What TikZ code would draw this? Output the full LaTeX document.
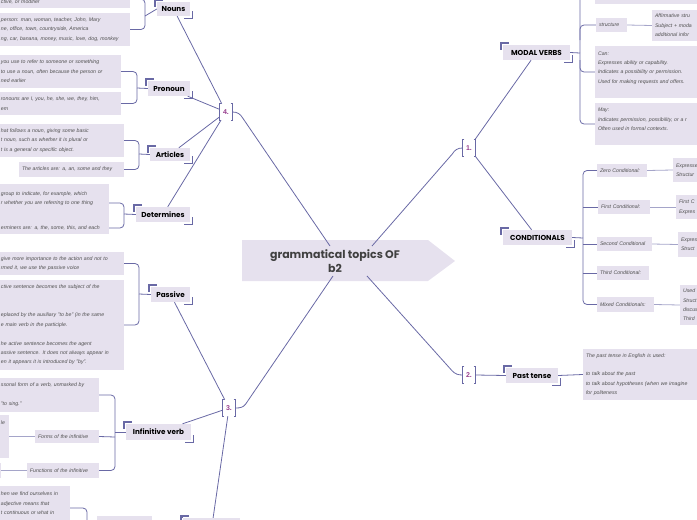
\documentclass[tikz,border=0pt]{standalone}
\usepackage{fontspec}
\setmainfont{Liberation Sans}
\newfontfamily\topf{Poppins}
\usetikzlibrary{calc}
\definecolor{boxc}{RGB}{230,225,238}
\definecolor{linec}{RGB}{105,105,165}
\definecolor{numc}{RGB}{150,60,140}
\definecolor{txtc}{RGB}{80,80,80}
\newcommand\subbox[6]{%
  \pgfmathsetmacro\bw{#4-#2-6}\pgfmathsetmacro\bh{#5-#3}%
  \node[sub,text width=\bw pt,minimum height=\bh pt] (#1) at ({(#2+#4)/2},{(#3+#5)/2}) {#6};}
\newcommand\topic[6]{%
  \pgfmathsetmacro\bw{#4-#2}\pgfmathsetmacro\bh{#5-#3}%
  \node[topic,minimum width=\bw pt,minimum height=\bh pt] (#1) at ({(#2+#4)/2},{(#3+#5)/2}) {#6};
  \draw[cornermark] ($(#1.north west)+(-2,5)$) -- ($(#1.north west)+(-2,-2)$) -- ($(#1.north west)+(6,-2)$);
  \draw[cornermark] ($(#1.south east)+(2,-5)$) -- ($(#1.south east)+(2,2)$) -- ($(#1.south east)+(-6,2)$);}
\newcommand\marker[4]{%
  \node[num] (#1) at (#2,#3) {#4};
  \draw[conn] ($(#1.north west)+(2,0)$) -- (#1.north west) -- (#1.south west) -- ++(2,0);
  \draw[conn] ($(#1.north east)+(-2,0)$) -- (#1.north east) -- (#1.south east) -- ++(-2,0);}
\newcommand\bl{\mbox{}}
\begin{document}
\begin{tikzpicture}[x=1pt,y=-1pt,
  sub/.style={fill=boxc,font=\fontsize{5.2}{9.4}\selectfont\itshape,text=txtc,align=left,inner xsep=3pt,inner ysep=1pt},
  topic/.style={fill=boxc,font=\topf\bfseries\fontsize{7.2}{8}\selectfont,inner sep=0pt},
  cornermark/.style={draw=linec,line width=1.4pt},
  conn/.style={draw=linec,line width=0.8pt},
  thin/.style={draw=linec!60,line width=0.8pt},
  num/.style={font=\bfseries\fontsize{7}{8}\selectfont,text=numc,minimum width=13pt,minimum height=16pt,inner sep=0pt}]
\useasboundingbox (0,0) rectangle (697,520);
\clip (0,0) rectangle (697,520);

% central topic
\fill[boxc] (242,240) -- (428,240) -- (455,261) -- (428,281) -- (242,281) -- cycle;
\node[font=\topf\bfseries\fontsize{11}{14}\selectfont,text=black!75,align=center] (c) at (335,261) {grammatical topics OF\\b2};

% markers
\marker{m4}{226}{112}{4.}
\marker{m3}{229}{408}{3.}
\marker{m1}{469}{148}{1.}
\marker{m2}{469}{375}{2.}
\draw[conn] (180,525) -- (180,517) -- (183,517);

% center connections
\draw[conn] ([xshift=-5pt]c.north) -- ($(m4.east)+(10,6)$) to[out=120,in=0] (m4.east);
\draw[conn] ([xshift=-2pt]c.south) -- ($(m3.east)+(10,-4)$) to[out=235,in=0] (m3.east);
\draw[conn] ([xshift=37pt]c.north) -- ($(m1.west)+(-10,6)$) to[out=60,in=180] (m1.west);
\draw[conn] ([xshift=32pt]c.south) -- ($(m2.west)+(-10,-4)$) to[out=-45,in=180] (m2.west);

% ===== Left: group 4 =====
\topic{nouns}{157}{2}{190}{16}{Nouns}
\topic{pron}{148}{81}{190}{96}{Pronoun}
\topic{art}{150}{148}{190}{161}{Articles}
\topic{det}{136}{207}{190}{222}{Determines}
\draw[conn] (m4) -- (nouns);
\draw[conn] (m4) -- (pron);
\draw[conn] (m4) -- (art);
\draw[conn] (m4) -- (det);

\subbox{n1}{-2}{-10}{130}{8}{\bl\\ctive, or modifier}
\subbox{n2}{-2}{13}{130}{46}{person: man, woman, teacher, John, Mary\\ne, office, town, countryside, America\\ng, car, banana, money, music, love, dog, monkey}
\draw[conn,rounded corners=4pt] (n1.east) -| (145,20) |- (n2.east);
\draw[conn] (nouns.west) -- (145,16);

\subbox{p1}{-2}{55}{121}{88}{you use to refer to someone or something\\to use a noun, often because the person or\\ned earlier}
\subbox{p2}{-2}{92}{121}{115}{ronouns are I, you, he, she, we, they, him,\\em}
\draw[conn,rounded corners=4pt] (p1.east) -| (137,88) |- (p2.east);
\draw[conn] (pron.west) -- (137,88);

\subbox{a1}{-2}{124}{124}{157}{hat follows a noun, giving some basic\\t noun, such as whether it is plural or\\t is a general or specific object.}
\subbox{a2}{19}{162}{124}{177}{The articles are: a, an, some and they}
\draw[conn,rounded corners=4pt] (a1.east) -| (139,154) |- (a2.east);
\draw[conn] (art.west) -- (139,154);

\subbox{d1}{-2}{184}{109}{222}{group to indicate, for example, which\\r whether you are referring to one thing\\\bl}
\subbox{d2}{-2}{222}{109}{234}{erminers are: a, the, some, this, and each}
\draw[conn,rounded corners=4pt] (d1.east) -| (124,214) |- (d2.east);
\draw[conn] (det.west) -- (124,214);

% ===== Left: group 3 =====
\topic{pas}{151}{287}{190}{302}{Passive}
\topic{inf}{126}{424}{191}{440}{Infinitive verb}
\topic{bot}{183}{518}{240}{540}{}
\draw[conn] (m3) -- (pas);
\draw[conn] (m3) -- (inf);
\draw[conn] (m3) -- (bot);

\subbox{ps1}{-2}{252}{124}{275}{give more importance to the action and not to\\rmed it, we use the passive voice}
\subbox{ps2}{-2}{280}{124}{370}{ctive sentence becomes the subject of the\\\bl\\\bl\\eplaced by the auxiliary "to be" (in the same\\e main verb in the participle.\\\bl\\he active sentence becomes the agent\\assive sentence. It does not always appear in\\en it appears it is introduced by "by".}
\draw[conn,rounded corners=4pt] (ps1.east) -| (139,294) |- (ps2.east);
\draw[conn] (pas.west) -- (139,294);

\subbox{i1}{-2}{378}{99}{412}{ssonal form of a verb, unmarked by\\\bl\\ "to sing."}
\subbox{i2}{35}{430}{99}{443}{Forms of the infinitive}
\subbox{i3}{27}{463}{99}{478}{Functions of the infinitive}
\subbox{i2a}{-2}{415}{9}{458}{le\\\bl\\\bl\\\bl}
\subbox{i3a}{-6}{463}{1}{478}{\bl}
\draw[conn,rounded corners=4pt] (i1.east) -| (115,432) |- (i3.east);
\draw[conn] (i2.east) -- (115,437);
\draw[conn] (inf.west) -- (115,432);
\draw[thin] (i2.west) -- (i2a.east);
\draw[thin] (i3.west) -- (i3a.east);

\subbox{b1}{-2}{486}{70}{530}{hen we find ourselves in\\ adjective means that\\t continuous or what in\\\bl}
\subbox{b2}{97}{516}{152}{530}{\bl}
\draw[conn,rounded corners=4pt] (b1.east) -| (87,530);

% ===== Right: group 1 =====
\topic{modal}{503}{45}{570}{60}{MODAL VERBS}
\topic{cond}{503}{230}{572}{245}{CONDITIONALS}
\draw[conn] (m1) -- (modal);
\draw[conn] (m1) -- (cond);

\subbox{mt}{595}{-20}{700}{4}{\bl}
\subbox{ms}{596}{18}{627}{32}{structure}
\subbox{msr}{652}{10}{703}{41}{Affirmative stru\\Subject + moda\\additional infor}
\subbox{mc}{595}{46}{703}{98}{Can:\\Expresses ability or capability.\\Indicates a possibility or permission.\\Used for making requests and offers.\\\bl}
\subbox{mm}{595}{103}{703}{145}{May:\\Indicates permission, possibility, or a r\\Often used in formal contexts.\\\bl}
\draw[conn,rounded corners=4pt] (mt.west) -| (580,60) |- (mm.west);
\draw[conn,rounded corners=4pt] (ms.west) -| (580,40);
\draw[conn,rounded corners=4pt] (mc.west) -| (580,60);
\draw[conn] (modal.east) -- (580,53);
\draw[thin] (ms.east) -- (msr.west);

\subbox{c0}{597}{164}{647}{177}{Zero Conditional:}
\subbox{c0r}{673}{158}{703}{182}{Expresse\\Structur}
\subbox{c1}{598}{200}{650}{214}{First Conditional:}
\subbox{c1r}{676}{195}{703}{219}{First C\\Expres}
\subbox{c2}{597}{237}{652}{251}{Second Conditional}
\subbox{c2r}{678}{232}{703}{257}{Expres\\Struct}
\subbox{c3}{597}{266}{649}{280}{Third Conditional:}
\subbox{c4}{597}{297}{654}{312}{Mixed Conditionals:}
\subbox{c4r}{680}{285}{703}{325}{Used\\Struct\\discus\\Third}
\draw[conn,rounded corners=4pt] (c0.west) -| (583,238) |- (c4.west);
\draw[conn] (c1.west) -- (583,207);
\draw[conn] (c2.west) -- (583,244);
\draw[conn] (c3.west) -- (583,273);
\draw[conn] (cond.east) -- (583,238);
\draw[thin] (c0.east) -- (c0r.west);
\draw[thin] (c1.east) -- (c1r.west);
\draw[thin] (c2.east) -- (c2r.west);
\draw[thin] (c4.east) -- (c4r.west);

% ===== Right: group 2 =====
\topic{past}{506}{368}{558}{383}{Past tense}
\subbox{pt}{583}{349}{703}{400}{The past tense in English is used:\\\bl\\to talk about the past\\to talk about hypotheses (when we imagine\\for politeness}
\draw[conn] (m2.east) -- (past.west);
\draw[conn] (past.east) -- (pt.west);
\end{tikzpicture}
\end{document}
